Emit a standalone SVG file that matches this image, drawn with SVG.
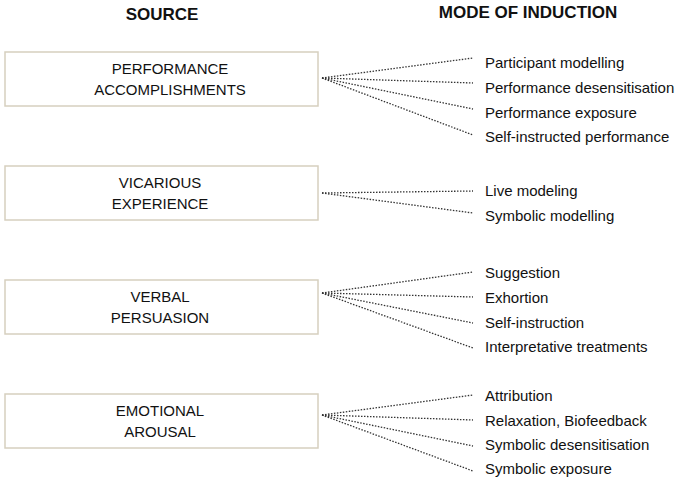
<svg xmlns="http://www.w3.org/2000/svg" width="685" height="483" viewBox="0 0 685 483">
<style>
.b{fill:#fff;stroke:#d6cfbf;stroke-width:1.5}
.t{font-family:"Liberation Sans",Arial,sans-serif;font-size:15px;fill:#111}
.h{font-family:"Liberation Sans",Arial,sans-serif;font-size:17px;font-weight:bold;fill:#111}
.c{text-anchor:middle}
#conn line{stroke:#333;stroke-width:1.3;stroke-dasharray:1.5 1.5}
</style>
<rect width="685" height="483" fill="#fff"/>
<text class="h c" x="162" y="20">SOURCE</text>
<text class="h c" x="528" y="18">MODE OF INDUCTION</text>
<g id="n1"><rect class="b" x="5" y="52" width="313" height="54"/><text class="t c" x="170" y="74">PERFORMANCE</text><text class="t c" x="170" y="95">ACCOMPLISHMENTS</text></g>
<g id="n2"><rect class="b" x="5" y="166" width="313" height="54"/><text class="t c" x="160" y="188">VICARIOUS</text><text class="t c" x="160" y="209">EXPERIENCE</text></g>
<g id="n3"><rect class="b" x="5" y="280" width="313" height="54"/><text class="t c" x="160" y="302">VERBAL</text><text class="t c" x="160" y="323">PERSUASION</text></g>
<g id="n4"><rect class="b" x="5" y="394" width="313" height="54"/><text class="t c" x="160" y="416">EMOTIONAL</text><text class="t c" x="160" y="437">AROUSAL</text></g>
<g id="labels">
<text class="t" x="485" y="68">Participant modelling</text>
<text class="t" x="485" y="93">Performance desensitisation</text>
<text class="t" x="485" y="118">Performance exposure</text>
<text class="t" x="485" y="142">Self-instructed performance</text>
<text class="t" x="485" y="196">Live modeling</text>
<text class="t" x="485" y="221">Symbolic modelling</text>
<text class="t" x="485" y="278">Suggestion</text>
<text class="t" x="485" y="303">Exhortion</text>
<text class="t" x="485" y="328">Self-instruction</text>
<text class="t" x="485" y="352">Interpretative treatments</text>
<text class="t" x="485" y="401">Attribution</text>
<text class="t" x="485" y="426">Relaxation, Biofeedback</text>
<text class="t" x="485" y="450">Symbolic desensitisation</text>
<text class="t" x="485" y="474">Symbolic exposure</text>
</g>
<g id="conn">
<line x1="322" y1="78" x2="473" y2="58"/><line x1="322" y1="78" x2="473" y2="83"/><line x1="322" y1="78" x2="473" y2="109"/><line x1="322" y1="78" x2="473" y2="135"/>
<line x1="322" y1="193" x2="473" y2="191"/><line x1="322" y1="193" x2="473" y2="213"/>
<line x1="322" y1="293" x2="473" y2="272"/><line x1="322" y1="293" x2="473" y2="297"/><line x1="322" y1="293" x2="473" y2="323"/><line x1="322" y1="293" x2="473" y2="348"/>
<line x1="322" y1="415" x2="473" y2="395"/><line x1="322" y1="415" x2="473" y2="420"/><line x1="322" y1="415" x2="473" y2="446"/><line x1="322" y1="415" x2="473" y2="471"/>
</g>
</svg>
